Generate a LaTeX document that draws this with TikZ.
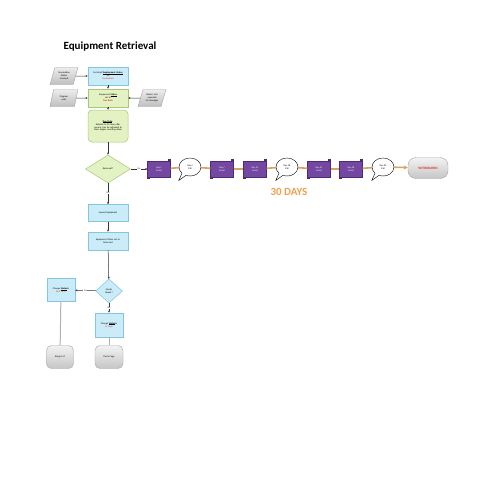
\documentclass[tikz,border=0pt]{standalone}
\usepackage{fontspec}
\setmainfont{Carlito}
\usetikzlibrary{shapes.geometric,shapes.callouts,arrows.meta,calc}
\definecolor{boxblue}{HTML}{C9ECF8}
\definecolor{boxblueline}{HTML}{86C5DE}
\definecolor{boxgreen}{HTML}{E3F2C2}
\definecolor{boxgreenline}{HTML}{A6C877}
\definecolor{tagpurple}{HTML}{7447A0}
\definecolor{tagdark}{HTML}{4E2A75}
\definecolor{lineorange}{HTML}{DDA15E}
\definecolor{daysorange}{HTML}{F0A050}
\definecolor{redtext}{HTML}{E0302A}
\newcommand{\myul}[1]{\setbox0\hbox{#1}\rlap{\rule[-0.35pt]{\wd0}{0.12pt}}\box0}
\begin{document}
\begin{tikzpicture}[x=1pt,y=-1pt,
 tinytext/.style={font=\fontsize{2.4}{2.9}\selectfont},
 bluebox/.style={tinytext, draw=boxblueline, fill=boxblue, line width=0.5pt, minimum width=40pt, minimum height=18pt, text width=37pt, align=center, inner sep=0.5pt},
 greenbox/.style={bluebox, draw=boxgreenline, fill=boxgreen},
 greenround/.style={greenbox, rounded corners=4pt, minimum height=32pt},
 greendiam/.style={tinytext, diamond, draw=boxgreenline, fill=boxgreen, line width=0.5pt, minimum width=45pt, minimum height=28pt, aspect=1.6, inner sep=0pt},
 bluediam/.style={tinytext, diamond, draw=boxblueline, fill=boxblue, line width=0.5pt, minimum width=27pt, minimum height=24pt, aspect=1.1, inner sep=0pt, align=center},
 smallblue/.style={bluebox, minimum width=28pt, minimum height=23pt, text width=26pt},
 datashape/.style={tinytext, trapezium, trapezium left angle=62, trapezium right angle=118, draw=gray!70, top color=gray!15, bottom color=gray!50, minimum width=28pt, minimum height=17pt, text width=16pt, align=center, inner sep=0.5pt, trapezium stretches=true},
 terminal/.style={tinytext, rounded corners=5pt, draw=gray!70, top color=gray!10, bottom color=gray!45, minimum width=27pt, minimum height=23pt, align=center, inner sep=0.5pt},
 tag/.style={tinytext, fill=tagpurple, draw=tagdark, line width=0.3pt, text=white, minimum width=23pt, minimum height=16pt, align=center, inner sep=0.5pt},
 bubble/.style={tinytext, ellipse callout, draw=black, line width=0.4pt, fill=white, minimum width=22pt, minimum height=18pt, callout relative pointer={(-5pt,-6pt)}, callout pointer arc=25, align=center, inner sep=0pt},
 flow/.style={-{Stealth[length=2.2pt,width=2pt]}, line width=0.5pt, black!80},
 grayline/.style={line width=1pt, gray!60},
 orangeline/.style={line width=1.6pt, lineorange},
 lbl/.style={tinytext, fill=white, inner sep=0.4pt}
]
\fill[white] (0,0) rectangle (495,495);
\useasboundingbox (0,0) rectangle (495,495);

\node (title) at (110,47) {\fontsize{11}{12}\selectfont\bfseries Equipment Retrieval};

% inputs
\node[datashape] (tn) at (64,76) {Termination\\Notice\\received};
\node[datashape] (pe) at (64,98) {Program\\ends};
\node[datashape] (st) at (152,98) {Stolen/ lost\\reported\\for damages};

% main column
\node[bluebox] (b1) at (108,76) {Set Key2 \myul{\textbf{Employment Status}}\\to\\\textcolor{redtext}{Terminated}};
\node[greenbox] (g1) at (108,98) {Equipment \myul{\textbf{Status}}\\set to\\\textcolor{redtext}{\textbf{Due Back}}};
\node[greenround] (g2) at (108,126) {\myul{\textbf{Due Date}}:\\defaults to 30 days after\\current (can be adjusted) \&\\timer begins counting down};
\node[greendiam] (dq) at (108,169) {Returned?};
\node[bluebox, minimum height=17pt] (ie) at (108,213) {Inspect Equipment};
\node[bluebox] (er) at (108,241) {Equipment Status set to\\Returned};
\node[bluediam] (nr) at (109,291) {Needs\\Repair?};
\node[smallblue] (cs) at (61,290) {Change \myul{\textbf{Status}} to\\\textcolor{redtext}{Sent to IT}};
\node[smallblue, minimum height=24pt] (ci) at (109,325) {Change \myul{\textbf{Status}} to\\\textcolor{redtext}{In Cage}};
\node[terminal] (bt) at (60,357) {Bring to IT};
\node[terminal, minimum width=28pt] (pc) at (109,357) {Put in Cage};

% timeline
\node[tag] (d1) at (159,169) {Day 1\\Email};
\node[bubble] (c4) at (190,167) {Day 4\\Call};
\node[tag] (d7) at (222,169) {Day 7\\Email};
\node[tag] (d14) at (255,169) {Day 14\\Email};
\node[bubble] (c18) at (287,167) {Day 18\\Call};
\node[tag] (d21) at (319,169) {Day 21\\Email};
\node[tag] (d28) at (351,169) {Day 28\\Email};
\node[bubble] (c30) at (383,167) {Day 30\\Call};
\node[rounded corners=8pt, draw=gray!70, top color=gray!10, bottom color=gray!45, minimum width=40pt, minimum height=21pt, text=redtext, font=\fontsize{3.4}{4}\selectfont\bfseries] (wd) at (428,168) {WITHDRAWN};
\node[text=daysorange, font=\fontsize{11}{13}\selectfont\bfseries] (days) at (289,192) {30 DAYS};

% scroll curls on tags
\foreach \n in {d1,d7,d14,d21,d28}{
  \fill[tagdark] ([xshift=-2.5pt]\n.north east) rectangle ([yshift=2pt]\n.north east);
  \fill[tagdark] (\n.south west) rectangle ([xshift=2.5pt,yshift=-2pt]\n.south west);
}

% connectors
\draw[flow] (tn) -- (b1);
\draw[flow] (pe) -- (g1);
\draw[flow] (st) -- (g1);
\draw[flow] (b1) -- (g1);
\draw[flow] (g1) -- (g2);
\draw[flow] (g2) -- (dq);
\draw[flow] (dq) -- node[lbl] {No} (d1);
\draw[flow] (dq) -- node[lbl, pos=0.45] {Yes} (ie);
\draw[flow] (ie) -- (er);
\draw[flow] (er) -- (nr);
\draw[flow] (nr) -- node[lbl] {Yes} (cs);
\draw[flow] (nr) -- node[lbl] {No} (ci);
\draw[grayline] (cs) -- (bt);
\draw[grayline] (ci) -- (pc);

\draw[orangeline] (d1) -- (c4);
\draw[orangeline] (c4) -- (d7);
\draw[orangeline] (d7) -- (d14);
\draw[orangeline] (d14) -- (c18);
\draw[orangeline] (c18) -- (d21);
\draw[orangeline] (d21) -- (d28);
\draw[orangeline] (d28) -- (c30);
\draw[orangeline, -{Stealth[length=4pt,width=4pt]}] (c30) -- (wd);
\end{tikzpicture}
\end{document}
